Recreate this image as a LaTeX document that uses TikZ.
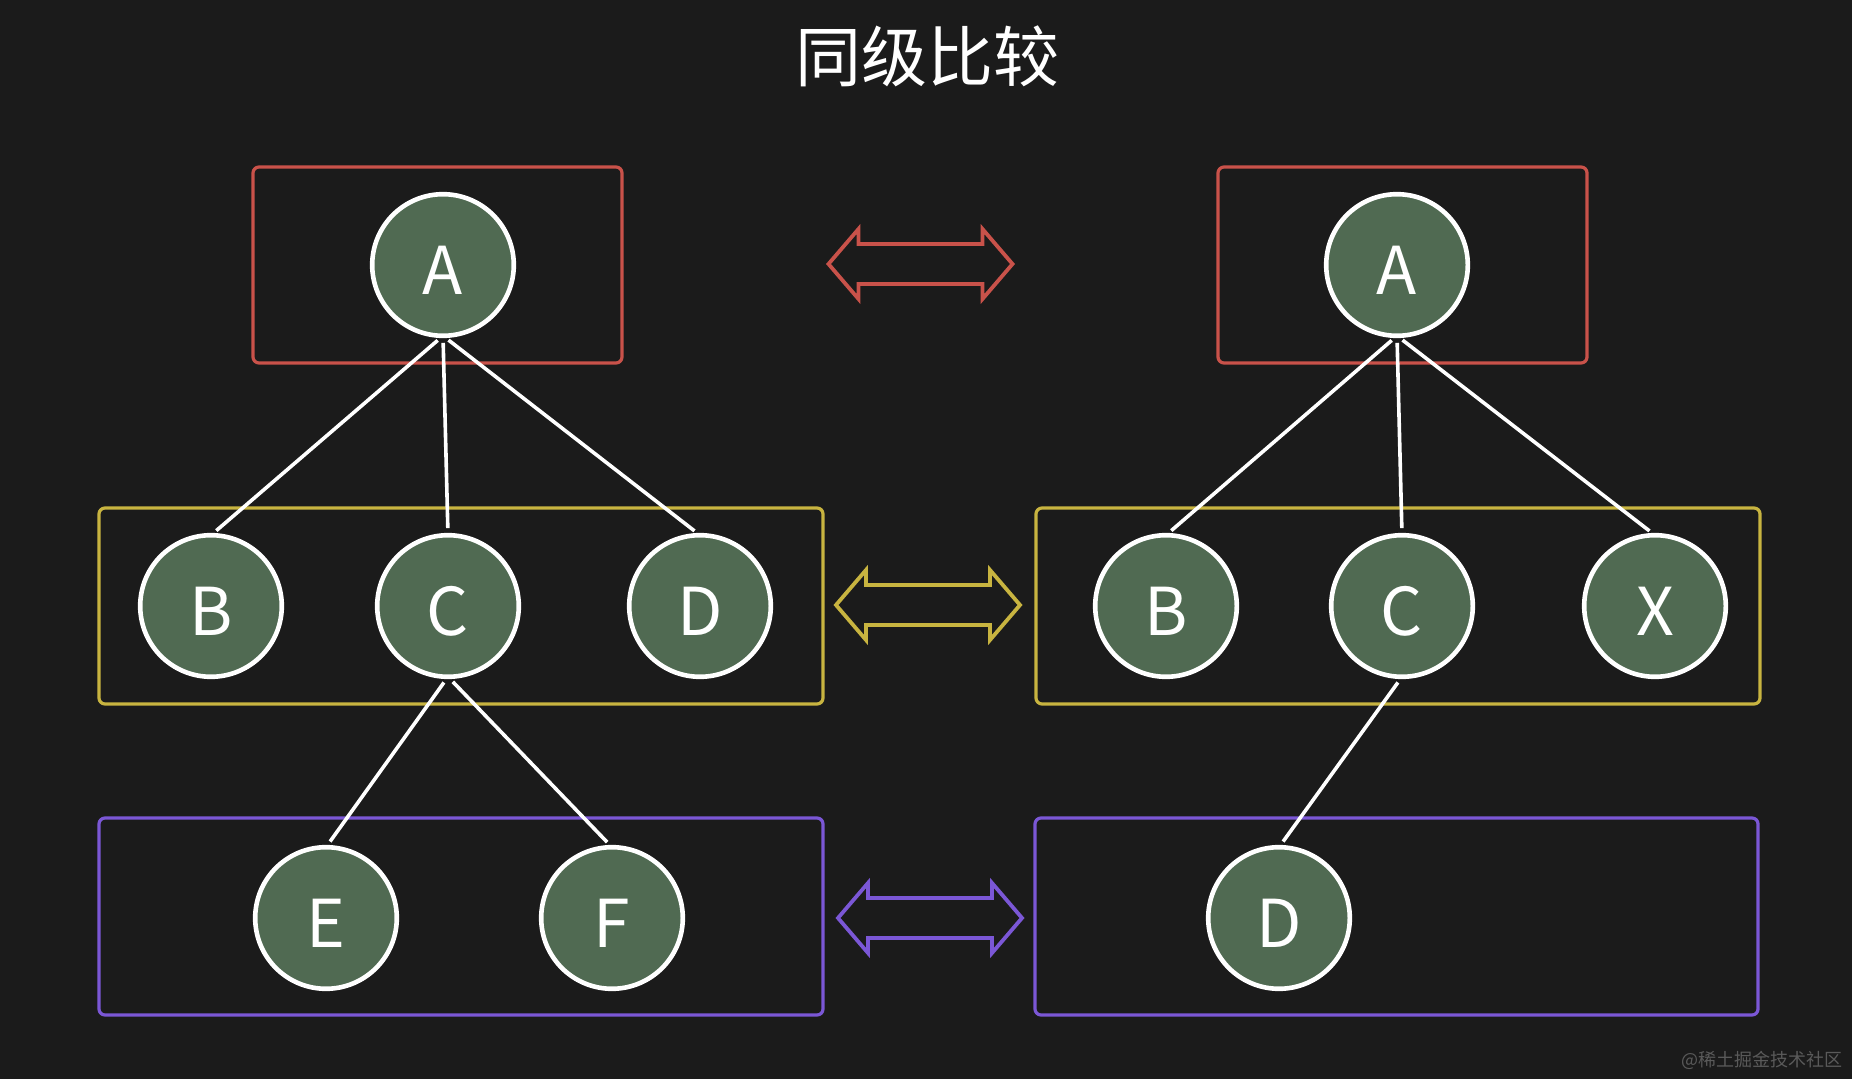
\documentclass[tikz,border=0pt]{standalone}
\usepackage{fontspec}
\setmainfont{Noto Sans CJK SC}
\definecolor{bgc}{HTML}{1B1B1B}
\definecolor{nodefill}{HTML}{506A52}
\definecolor{redc}{HTML}{C9524A}
\definecolor{yelc}{HTML}{C8B440}
\definecolor{purc}{HTML}{7B57D6}
\definecolor{wmc}{HTML}{5A5A5A}
\newcommand\dblarw[3]{%
  \draw[#1, line width=1.9pt, line join=miter] ({#2-92},#3) -- ++(30,-35) -- ++(0,15) -- ++(124,0) -- ++(0,-15) -- ++(30,35) -- ++(-30,35) -- ++(0,-15) -- ++(-124,0) -- ++(0,15) -- cycle;}
\tikzset{
  tnode/.style={circle, draw=white, line width=2.3pt, fill=nodefill, minimum size=70.8pt, inner sep=0pt, outer sep=0pt,
    text=white, font=\fontsize{33}{33}\selectfont, text height=29.2pt, text depth=0pt},
  edge/.style={draw=white, line width=1.8pt, shorten <=3.5pt, shorten >=3.5pt},
  levelbox/.style={line width=1.6pt, rounded corners=3pt},
}
\begin{document}
\begin{tikzpicture}[x=0.5pt, y=-0.5pt]
\fill[bgc] (0,0) rectangle (1852,1079);
\useasboundingbox (0,0) rectangle (1852,1079);
% title
\node[anchor=base, text=white, font=\fontsize{33}{33}\selectfont, inner sep=0pt] (title) at (927,82) {同级比较};
% boxes
\draw[levelbox, redc] (253,167) rectangle (622,363);
\draw[levelbox, redc] (1218,167) rectangle (1587,363);
\draw[levelbox, yelc] (99,508) rectangle (823,704);
\draw[levelbox, yelc] (1036,508) rectangle (1760,704);
\draw[levelbox, purc] (99,818) rectangle (823,1015);
\draw[levelbox, purc] (1035,818) rectangle (1758,1015);
% arrows
\dblarw{redc}{920.5}{264}
\dblarw{yelc}{928}{605}
\dblarw{purc}{930}{918}
% left tree
\node[tnode] (A1) at (443,265) {A};
\node[tnode] (B1) at (211,606) {B};
\node[tnode] (C1) at (448,606) {C};
\node[tnode] (D1) at (700,606) {D};
\node[tnode] (E1) at (326,918) {E};
\node[tnode] (F1) at (612,918) {F};
% right tree
\node[tnode] (A2) at (1397,265) {A};
\node[tnode] (B2) at (1166,606) {B};
\node[tnode] (C2) at (1402,606) {C};
\node[tnode] (X2) at (1655,606) {X};
\node[tnode] (D2) at (1279,918) {D};
% edges
\draw[edge] (A1.south) -- (B1.north);
\draw[edge] (A1.south) -- (C1.north);
\draw[edge] (A1.south) -- (D1.north);
\draw[edge] (C1.south) -- (E1.north);
\draw[edge] (C1.south) -- (F1.north);
\draw[edge] (A2.south) -- (B2.north);
\draw[edge] (A2.south) -- (C2.north);
\draw[edge] (A2.south) -- (X2.north);
\draw[edge] (C2.south) -- (D2.north);
% watermark
\node[anchor=east, text=wmc, font=\fontsize{9}{9}\selectfont, inner sep=0pt] (wm) at (1843,1060) {@稀土掘金技术社区};
\end{tikzpicture}
\end{document}
